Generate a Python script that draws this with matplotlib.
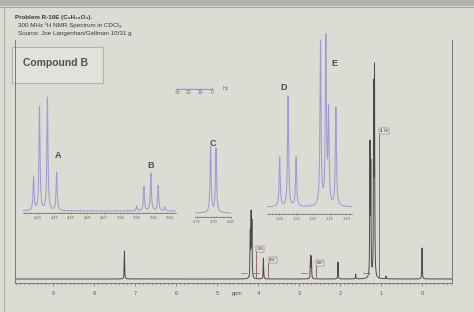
import numpy as np
import matplotlib
matplotlib.use("Agg")
import matplotlib.pyplot as plt
from matplotlib.patches import Rectangle
from matplotlib.ticker import MultipleLocator, FixedLocator

plt.rcParams['font.family'] = ['Liberation Sans', 'DejaVu Sans']

W, H, DPI = 474, 312, 100

# ---------------- data ----------------
main_ppm = [7.26, 4.19, 4.17, 4.15, 3.87, 2.72, 2.70, 2.05, 1.62, 1.27, 1.25, 1.18, 1.16, 0.88, 0.00]
main_height = [28, 50, 69, 60, 21, 24, 23, 17, 5, 139, 120, 200, 216, 3, 31]
main_ticks = [9, 8, 7, 6, 5, 4, 3, 2, 1, 0]

integral_labels = ["1.95", "0.92", "0.87", "11.58"]
integral_ppm = [4.17, 3.87, 2.71, 1.18]

A_ppm = [4.213, 4.195, 4.171, 4.143]
A_height = [35, 105, 114, 39]
B_ppm = [3.901, 3.879, 3.858, 3.836, 3.815]
B_height = [5, 25, 38, 26, 4]
C_ppm = [2.710, 2.694]
C_height = [67, 65]
D_ppm = [1.299, 1.274, 1.250]
D_height = [50, 111, 50]
E_ppm = [1.177, 1.161, 1.153, 1.131]
E_height = [167, 173, 103, 100]

AB_ticks = [4.20, 4.15, 4.10, 4.05, 4.00, 3.95, 3.90, 3.85, 3.80]
C_ticks = [2.75, 2.70, 2.65]
DE_ticks = [1.30, 1.25, 1.20, 1.15, 1.10]
hz_ticks = [30, 20, 10, 0]

BG = '#dcdbd4'
INSET_COL = '#9d9dd6'
MAIN_COL = '#4a4a4a'
TXT = '#4a4a4a'


def lorentz_sum(x, centers, heights, hw):
    c = np.asarray(centers, float)
    h = np.asarray(heights, float)
    M = 1.0 / (1.0 + ((c[:, None] - c[None, :]) / hw) ** 2)
    amp = np.linalg.solve(M, h)
    return (amp[None, :] / (1.0 + ((x[:, None] - c[None, :]) / hw) ** 2)).sum(axis=1)


fig = plt.figure(figsize=(W / DPI, H / DPI), dpi=DPI, facecolor=BG)


def px_axes(x0, y0, x1, y1, z=1):
    ax = fig.add_axes([x0 / W, 1 - y1 / H, (x1 - x0) / W, (y1 - y0) / H], zorder=z)
    ax.patch.set_alpha(0)
    return ax


# overlay for decorations (pixel coords)
ov = fig.add_axes([0, 0, 1, 1], zorder=0)
ov.set_xlim(0, W)
ov.set_ylim(H, 0)
ov.axis('off')
ov.add_patch(Rectangle((0, 0), W, 6, facecolor='#b3b2ad', edgecolor='none'))
ov.plot([0, W], [6.5, 6.5], color='#9a9994', lw=0.6)
ov.plot([4, 4], [8, H], color='#b2b1aa', lw=0.8)
ov.add_patch(Rectangle((12, 47), 91, 36, facecolor='#e2e1da', edgecolor='#b5b4ae', lw=0.8))
ov.text(56, 63, "Compound B", ha='center', va='center', fontsize=7.5,
        fontweight='bold', color='#505050')

fig.text(15 / W, 1 - 17 / H, "Problem R-10E (C₉H₁₆O₃).", fontsize=4.5,
         fontweight='bold', color='#3a3a3a', va='center')
fig.text(18 / W, 1 - 25 / H, "300 MHz ¹H NMR Spectrum in CDCl₃.", fontsize=4.5,
         color='#3a3a3a', va='center')
fig.text(18 / W, 1 - 33 / H, "Source: Joe Langenhan/Gellman 10/31 g", fontsize=4.5,
         color='#3a3a3a', va='center')

# ---------------- main spectrum ----------------
ax = px_axes(15, 40, 452, 283, z=1)
x = np.linspace(-0.75, 9.95, 24000)
y = lorentz_sum(x, main_ppm, main_height, 0.006)
ax.plot(x, y, color=MAIN_COL, lw=0.7)
ax.set_xlim(9.93, -0.73)
ax.set_ylim(-4, 239)
ax.spines['top'].set_visible(False)
for s in ['left', 'right', 'bottom']:
    ax.spines[s].set_color('#6a6a6a')
    ax.spines[s].set_linewidth(0.6)
ax.set_yticks([])
ax.xaxis.set_major_locator(FixedLocator(main_ticks))
ax.xaxis.set_minor_locator(MultipleLocator(0.1))
ax.set_xticklabels([str(t) for t in main_ticks])
ax.tick_params(axis='x', which='major', length=2.5, width=0.5, color='#6a6a6a',
               labelsize=4, labelcolor='#555555', pad=3)
ax.tick_params(axis='x', which='minor', length=1.3, width=0.4, color='#7a7a7a')
fig.text(237 / W, 1 - 293 / H, "ppm", fontsize=4, color='#555555', ha='center', va='center')

# integrals
label_y = [30, 19, 16, 148]
for lab, p, ly in zip(integral_labels, integral_ppm, label_y):
    dx = 0.12
    ax.plot([p - dx, p - dx], [2, ly - 3], color='#7a3b3b', lw=0.5)
    ax.plot([p + 0.25, p + 0.1], [6, 6], color='#6a6a6a', lw=0.5)
    ax.text(p - dx - 0.02, ly, lab, fontsize=2.6, color='#222222', ha='left', va='center',
            bbox=dict(boxstyle='square,pad=0.15', facecolor='#e8e7e2', edgecolor='#555555', lw=0.3))


def inset(x0, y0, x1, y1, xl, yl, ticks, peaks, col=INSET_COL):
    a = px_axes(x0, y0, x1, y1, z=2)
    xs = np.linspace(min(xl), max(xl), 5000)
    ys = np.zeros_like(xs)
    for pp, hh in peaks:
        ys += lorentz_sum(xs, pp, hh, 0.0019)
    a.plot(xs, ys, color=col, lw=0.75)
    a.set_xlim(*xl)
    a.set_ylim(*yl)
    for s in ['left', 'right', 'top']:
        a.spines[s].set_visible(False)
    a.spines['bottom'].set_color('#6a6a6a')
    a.spines['bottom'].set_linewidth(0.5)
    a.set_yticks([])
    a.xaxis.set_major_locator(FixedLocator(ticks))
    a.xaxis.set_minor_locator(MultipleLocator(0.01))
    a.set_xticklabels([f"{t:.2f}" for t in ticks])
    a.tick_params(axis='x', which='major', direction='inout', length=2, width=0.4,
                  color='#6a6a6a', labelsize=2.9, labelcolor='#666666', pad=1.2)
    a.tick_params(axis='x', which='minor', direction='inout', length=1.2, width=0.3,
                  color='#7a7a7a')
    return a


inset(23, 90, 176, 213, (4.245, 3.782), (-2, 121), AB_ticks,
      [(A_ppm, A_height), (B_ppm, B_height)])
inset(195, 138, 231, 217, (2.756, 2.650), (-4, 75), C_ticks,
      [(C_ppm, C_height)])
inset(267, 28, 352, 214, (1.337, 1.083), (-7, 179), DE_ticks,
      [(D_ppm, D_height), (E_ppm, E_height)])

for lab, (lx, ly) in zip("ABCDE", [(58, 155), (151, 165), (213, 143), (284, 88), (334, 63)]):
    ov.text(lx, ly, lab, ha='center', va='center', fontsize=6.5, fontweight='bold', color=TXT)

# Hz scale bar
hz = px_axes(176, 80, 213, 89, z=2)
hz.set_xlim(31, -1)
hz.set_ylim(0, 1)
for s in ['left', 'right', 'top']:
    hz.spines[s].set_visible(False)
hz.spines['bottom'].set_color('#8a8ac8')
hz.spines['bottom'].set_linewidth(0.6)
hz.set_yticks([])
hz.xaxis.set_major_locator(FixedLocator(hz_ticks))
hz.xaxis.set_minor_locator(MultipleLocator(2))
hz.set_xticklabels([str(t) for t in hz_ticks])
hz.tick_params(axis='x', which='major', direction='in', length=1.5, width=0.4, color='#8a8ac8',
               labelsize=3.6, labelcolor='#6a6a9a', pad=1)
hz.tick_params(axis='x', which='minor', direction='in', length=0.9, width=0.3, color='#8a8ac8')
ov.text(226, 89, "Hz", fontsize=3.8, color='#6a6a9a', ha='center', va='center', zorder=5)

fig.savefig("out.png", dpi=DPI, facecolor=BG)
